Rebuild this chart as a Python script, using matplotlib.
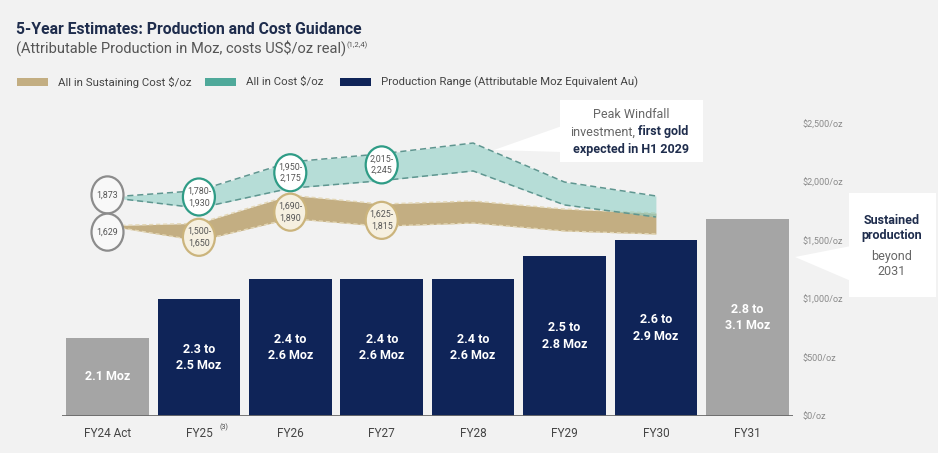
import matplotlib
matplotlib.use("Agg")
import matplotlib.pyplot as plt
import numpy as np
from matplotlib.patches import Ellipse, Polygon, Rectangle

# ---- data ----
categories = ["FY24 Act", "FY25", "FY26", "FY27", "FY28", "FY29", "FY30", "FY31"]
# bar heights as drawn on the slide (in units of the $/oz axis)
bar_height = [668, 1002, 1173, 1173, 1173, 1370, 1507, 1687]
bar_label = ["2.1 Moz", "2.3 to\n2.5 Moz", "2.4 to\n2.6 Moz", "2.4 to\n2.6 Moz",
             "2.4 to\n2.6 Moz", "2.5 to\n2.8 Moz", "2.6 to\n2.9 Moz", "2.8 to\n3.1 Moz"]
bar_is_guidance = [False, True, True, True, True, True, True, False]

# cost bands FY24..FY30 (US$/oz)
aic_low = [1873, 1780, 1950, 2015, 2098, 1807, 1704]
aic_high = [1873, 1930, 2175, 2245, 2337, 2003, 1884]
aisc_low = [1629, 1500, 1690, 1625, 1652, 1584, 1558]
aisc_high = [1629, 1650, 1890, 1815, 1841, 1772, 1738]
n_labelled = 4  # FY24..FY27 carry value bubbles

yticks = [0, 500, 1000, 1500, 2000, 2500]

FONT = ["Liberation Sans Narrow", "Roboto", "DejaVu Sans"]
plt.rcParams["font.family"] = FONT

BG = "#f2f2f2"
NAVY = "#0f2458"
GREY_BAR = "#a5a5a5"
TAN = "#c3ae82"
TEAL = "#8fd0c6"
TITLE = "#1f2d4d"
TXT = "#555555"

W, H = 938, 453
fig = plt.figure(figsize=(W / 100, H / 100), dpi=100, facecolor=BG)


def px(x, y):
    return x / W, 1 - y / H


# axes: x data i -> pixel 107.5 + 91.4 i ; y 0 -> pixel 416, 0.1168 px per $
x_lo, x_hi = -0.6, 7.555
y_lo, y_hi = 0, 2900
left = (107.5 + 91.4 * x_lo) / W
width = 91.4 * (x_hi - x_lo) / W
bottom = (H - 416) / H
height = 0.1168 * (y_hi - y_lo) / H
ax = fig.add_axes([left, bottom, width, height])
ax.set_facecolor("none")
ax.set_xlim(x_lo, x_hi)
ax.set_ylim(y_lo, y_hi)
for s in ax.spines.values():
    s.set_visible(False)

x = np.arange(len(categories))
colors = [NAVY if g else GREY_BAR for g in bar_is_guidance]
ax.bar(x, bar_height, width=0.905, color=colors, zorder=2)
for xi, h, lab in zip(x, bar_height, bar_label):
    ax.text(xi, h / 2, lab, ha="center", va="center", color="white",
            fontsize=9, fontweight="bold", linespacing=1.35, zorder=3)
ax.hlines(0, -0.5, 7.5, color="#6b6b6b", lw=1.3, zorder=3)

# cost bands
xc = x[:len(aic_low)]
ax.fill_between(xc, aisc_low, aisc_high, color=TAN, lw=0, zorder=4)
ax.plot(xc, aisc_high, color="#e3d7b6", lw=1.0, ls=(0, (3, 2)), zorder=5)
ax.plot(xc, aisc_low, color="#e3d7b6", lw=1.0, ls=(0, (3, 2)), zorder=5)
ax.fill_between(xc, aic_low, aic_high, color=TEAL, alpha=0.6, lw=0, zorder=6)
ax.plot(xc, aic_high, color="#5f9690", lw=1.1, ls=(0, (4, 2.5)), zorder=7)
ax.plot(xc, aic_low, color="#5f9690", lw=1.1, ls=(0, (4, 2.5)), zorder=7)


def fmt(lo, hi):
    return f"{lo:,}" if lo == hi else f"{lo:,}-\n{hi:,}"


ew, eh = 0.35, 317
for i in range(n_labelled):
    first = i == 0
    ya = (aic_low[i] + aic_high[i]) / 2 + 20
    yb = (aisc_low[i] + aisc_high[i]) / 2 - (55 if first else 45)
    ax.add_patch(Ellipse((x[i], ya), ew, eh, facecolor="#f8f8f8" if first else "white",
                         edgecolor="#8c8c8c" if first else "#2f9c86", lw=1.6, zorder=8))
    ax.text(x[i], ya, fmt(aic_low[i], aic_high[i]), ha="center", va="center",
            fontsize=6.4, color=TXT, linespacing=1.35, zorder=9)
    ax.add_patch(Ellipse((x[i], yb), ew, eh, facecolor="#f8f8f8" if first else "#f6f0e0",
                         edgecolor="#8c8c8c" if first else "#cbb47c", lw=1.6, zorder=8))
    ax.text(x[i], yb, fmt(aisc_low[i], aisc_high[i]), ha="center", va="center",
            fontsize=6.4, color=TXT, linespacing=1.35, zorder=9)

# axis ticks
ax.set_xticks(x, categories)
ax.tick_params(axis="x", length=0, pad=8, labelsize=8.5, labelcolor="#444444")
ax.yaxis.tick_right()
ax.set_yticks(yticks, [f"${v:,}/oz" for v in yticks])
ax.tick_params(axis="y", length=0, pad=3, labelsize=6.5, labelcolor="#8a8a8a")
fig.text(*px(219, 427), "(3)", fontsize=5, color="#444444", ha="left", va="center")

# title + subtitle
fig.text(*px(16, 30), "5-Year Estimates: Production and Cost Guidance", fontsize=11.3,
         fontweight="bold", color=TITLE, va="center")
fig.text(*px(16, 48), "(Attributable Production in Moz, costs US$/oz real)", fontsize=10.5,
         color="#555555", va="center")
fig.text(*px(346, 45), "(1,2,4)", fontsize=5.5, color="#555555", va="center")

# legend
leg = [(17, TAN, "All in Sustaining Cost $/oz"), (205, "#4fa99a", "All in Cost $/oz"),
       (340, NAVY, "Production Range (Attributable Moz Equivalent Au)")]
for lx, c, t in leg:
    fig.add_artist(Rectangle(px(lx, 86), 31 / W, 8 / H, transform=fig.transFigure,
                             facecolor=c, edgecolor="none"))
    fig.text(*px(lx + 41, 82), t, fontsize=8.2, color="#444444", va="center")

# callout: peak windfall
fig.add_artist(Polygon([px(494, 150), px(562, 126), px(562, 152)], closed=True,
                       transform=fig.transFigure, facecolor="white", edgecolor="none", zorder=10))
fig.add_artist(Rectangle(px(560, 162), 143 / W, 62 / H, transform=fig.transFigure,
                         facecolor="white", edgecolor="none", zorder=10))
fig.text(*px(631, 114), "Peak Windfall", fontsize=9, color="#666666", ha="center",
         va="center", zorder=11)
fig.text(*px(635, 132), "investment,", fontsize=9, color="#666666", ha="right",
         va="center", zorder=11)
fig.text(*px(638, 132), "first gold", fontsize=9, color=TITLE, fontweight="bold",
         ha="left", va="center", zorder=11)
fig.text(*px(631, 150), "expected in H1 2029", fontsize=9, color=TITLE, fontweight="bold",
         ha="center", va="center", zorder=11)

# callout: sustained production
fig.add_artist(Polygon([px(795, 257), px(851, 246), px(851, 281)], closed=True,
                       transform=fig.transFigure, facecolor="white", edgecolor="none", zorder=10))
fig.add_artist(Rectangle(px(849, 297), 87 / W, 104 / H, transform=fig.transFigure,
                         facecolor="white", edgecolor="none", zorder=10))
fig.text(*px(892, 228), "Sustained\nproduction", fontsize=9, color=TITLE, fontweight="bold",
         ha="center", va="center", linespacing=1.25, zorder=11)
fig.text(*px(892, 264), "beyond\n2031", fontsize=9, color="#666666",
         ha="center", va="center", linespacing=1.2, zorder=11)

fig.savefig("out.png", dpi=100, facecolor=BG)
